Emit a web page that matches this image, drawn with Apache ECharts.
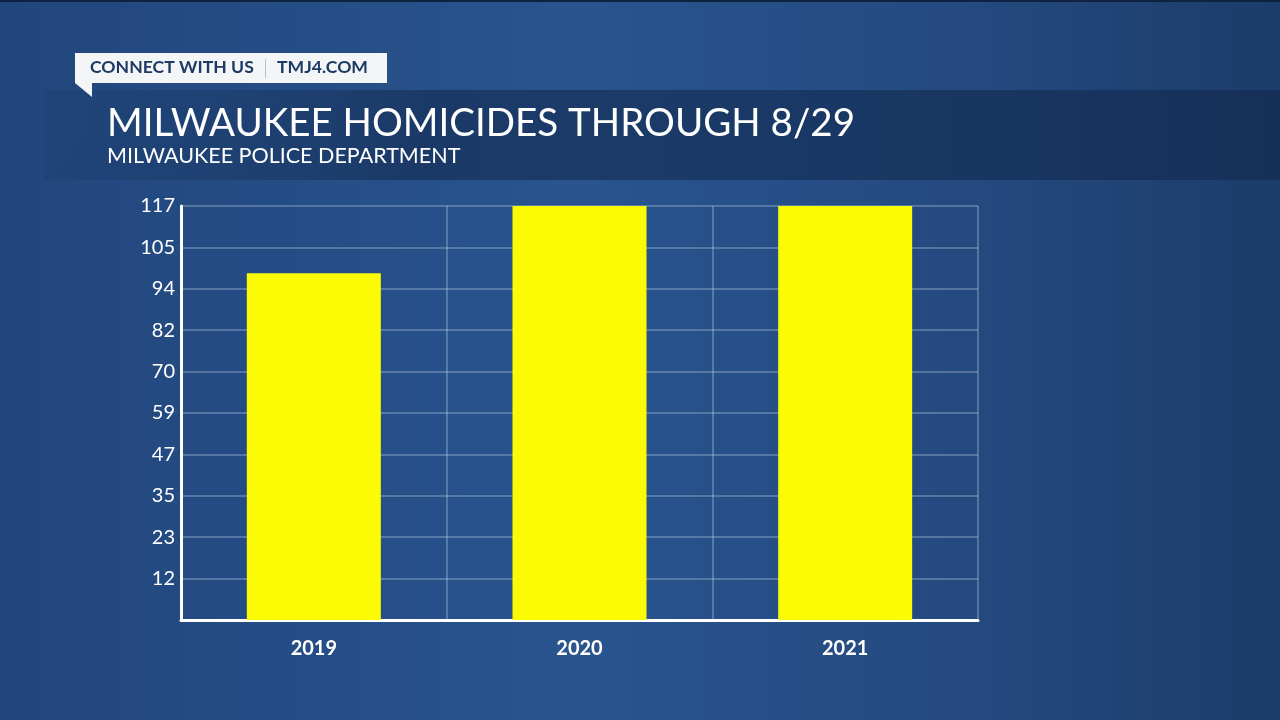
<!DOCTYPE html>
<html><head><meta charset="utf-8">
<script src="https://cdn.jsdelivr.net/npm/echarts@6/dist/echarts.min.js"></script>
<style>html,body{margin:0;padding:0;background:#1f4478}#c{width:1280px;height:720px}</style>
</head><body><div id="c"></div>
<script>
const categories = ['2019', '2020', '2021'];
const homicides = [98, 117, 117];
const axisMax = 117;
const tickStep = 11.7;

const chart = echarts.init(document.getElementById('c'));
chart.setOption({
  animation: false,
  backgroundColor: {
    type: 'linear', x: 0, y: 0, x2: 1, y2: 0,
    colorStops: [
      {offset: 0, color: '#21467c'},
      {offset: 0.45, color: '#29548e'},
      {offset: 0.75, color: '#244a80'},
      {offset: 1, color: '#1c3c6a'}
    ]
  },
  graphic: [
    {type: 'rect', left: 0, top: 0, shape: {width: 1280, height: 2}, style: {fill: '#0f2240'}, z: 0},
    {type: 'rect', left: 44, top: 90, shape: {width: 1236, height: 90},
      style: {fill: {type: 'linear', x: 0, y: 0, x2: 0.3, y2: 1, colorStops: [
        {offset: 0, color: 'rgba(25,55,100,0.2)'},
        {offset: 1, color: 'rgba(16,38,74,0.55)'}]}}, z: 0},
    {type: 'rect', left: 75, top: 53, shape: {width: 312, height: 30}, style: {fill: '#f4f5f7'}, z: 1},
    {type: 'polygon', shape: {points: [[75, 83], [92, 83], [92, 97]]}, style: {fill: '#f4f5f7'}, z: 1},
    {type: 'text', left: 90, top: 58, style: {text: 'CONNECT WITH US', font: 'bold 17.6px Lato', fill: '#1d3a64'}, z: 2},
    {type: 'rect', left: 265, top: 59, shape: {width: 1, height: 19}, style: {fill: '#b9c0cb'}, z: 2},
    {type: 'text', left: 277, top: 58, style: {text: 'TMJ4.COM', font: 'bold 17.6px Lato', fill: '#1d3a64'}, z: 2}
  ],
  title: {
    text: 'MILWAUKEE HOMICIDES THROUGH 8/29',
    subtext: 'MILWAUKEE POLICE DEPARTMENT',
    left: 102, top: 99,
    itemGap: 2,
    textStyle: {color: '#ffffff', fontFamily: 'Lato', fontWeight: 'normal', fontSize: 38.5},
    subtextStyle: {color: '#ffffff', fontFamily: 'Lato', fontSize: 21.5}
  },
  grid: {left: 181, right: 302, top: 206, bottom: 100, containLabel: false},
  xAxis: {
    type: 'category', data: categories,
    axisLine: {lineStyle: {color: '#ffffff', width: 3}},
    axisTick: {show: false},
    axisLabel: {color: '#ffffff', fontFamily: 'Lato', fontWeight: 'bold', fontSize: 20, margin: 19},
    splitLine: {show: true, lineStyle: {color: 'rgba(200,215,235,0.3)', width: 2}}
  },
  yAxis: {
    type: 'value', min: 0, max: axisMax, interval: tickStep,
    axisLine: {show: true, lineStyle: {color: '#ffffff', width: 3}},
    axisTick: {show: false},
    axisLabel: {color: '#ffffff', fontFamily: 'Lato', fontSize: 20, margin: 6,
      formatter: v => v < 1 ? '' : String(Math.round(v))},
    splitLine: {lineStyle: {color: 'rgba(200,215,235,0.3)', width: 2}}
  },
  series: [{
    type: 'bar', data: homicides, barWidth: 134,
    itemStyle: {color: '#fbfb06'}
  }]
});
</script></body></html>
